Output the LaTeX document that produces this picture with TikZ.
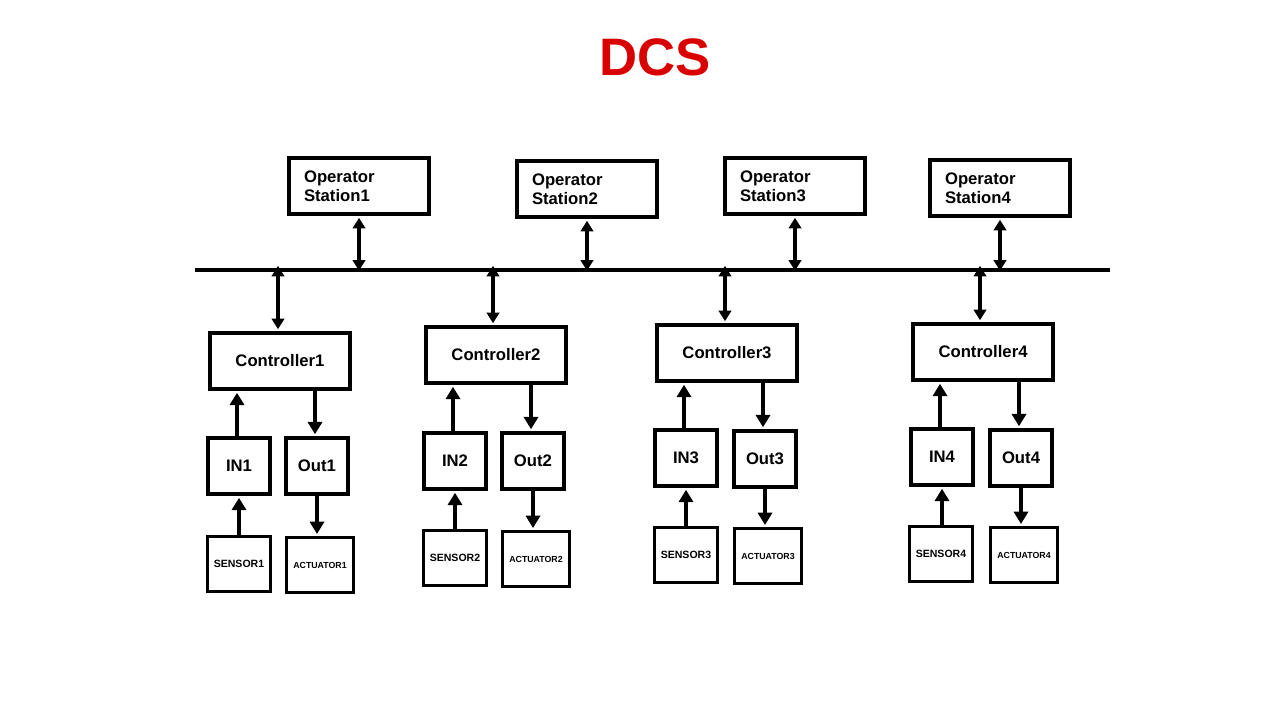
\documentclass[tikz,border=0pt]{standalone}
\usepackage{fontspec}
\setmainfont{Liberation Sans}
\usetikzlibrary{arrows.meta}
\begin{document}
\begin{tikzpicture}[x=0.02cm,y=-0.02cm,
  box/.style={draw,line width=2.3pt,inner sep=0pt,font=\bfseries\fontsize{9.5}{11}\selectfont},
  big/.style={box,minimum width=2.8cm,minimum height=1.12cm},
  io/.style={box,minimum width=1.24cm,minimum height=1.12cm},
  dev/.style={box,line width=2pt,minimum width=1.26cm,minimum height=1.1cm,font=\bfseries\fontsize{6}{7}\selectfont},
  act/.style={dev,minimum width=1.34cm,font=\bfseries\fontsize{5}{6}\selectfont},
  arr/.style={line width=2.2pt,-{Triangle[length=7pt,width=8pt]},shorten >=1pt},
  darr/.style={line width=2.2pt,{Triangle[length=6pt,width=7pt]}-{Triangle[length=6pt,width=7pt]},shorten >=1pt,shorten <=1pt}]
\useasboundingbox (0,0) rectangle (1280,720);
\node[text=red!85!black,font=\bfseries\fontsize{30}{34}\selectfont] (t) at (655,57) {DCS};
\draw[line width=2.8pt] (195,270) coordinate (bl) -- (1110,270) coordinate (br);
\foreach \i/\ox/\oy/\ax/\cx/\cy/\bx in {1/359/186/359/280/361/278, 2/587/189/587/496/355/493, 3/795/186/795/727/353/725, 4/1000/188/1000/983/352/980}{
  \node[big,align=left,text width=2.2cm] (os\i) at (\ox,\oy) {Operator\\Station\i};
  \coordinate (ob\i) at (\ax,270);
  \draw[darr] (os\i.south) -- ([yshift=-0.05cm]ob\i);
  \node[big] (c\i) at (\cx,\cy) {Controller\i};
  \coordinate (cb\i) at (\bx,270);
  \draw[darr] ([yshift=0.12cm]cb\i) -- (c\i.north-|cb\i);
}
\foreach \i/\ix/\iy/\ox/\oy/\sx/\sy/\ay in {1/239/466/317/466/239/564/565, 2/455/461/533/461/455/558/559, 3/686/458/765/459/686/555/556, 4/942/457/1021/458/941/554/555}{
  \node[io] (in\i) at (\ix,\iy) {IN\i};
  \node[io] (out\i) at (\ox,\oy) {Out\i};
  \node[dev] (s\i) at (\sx,\sy) {\raisebox{-2.5pt}{SENSOR\i}};
  \node[act] (a\i) at ([xshift=0.06cm]\ox,\ay) {\raisebox{-2.5pt}{ACTUATOR\i}};
  \draw[arr] ([xshift=-0.04cm]in\i.north) -- ([xshift=-0.04cm]in\i.north|-c\i.south);
  \draw[arr] ([xshift=-0.04cm]out\i.north|-c\i.south) -- ([xshift=-0.04cm]out\i.north);
  \draw[arr] (s\i.north-|in\i) -- (in\i.south);
  \draw[arr] (out\i.south) -- (a\i.north-|out\i);
}
\end{tikzpicture}
\end{document}
